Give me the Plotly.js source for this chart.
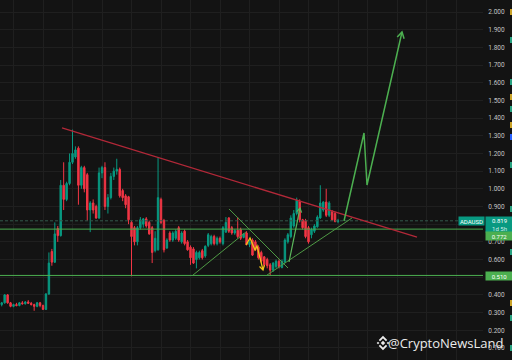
<!DOCTYPE html>
<html><head><meta charset="utf-8">
<script src="https://cdn.plot.ly/plotly-3.0.1.min.js"></script>
<style>html,body{margin:0;padding:0;background:#131313;}#chart{width:512px;height:360px;}</style>
</head><body><div id="chart"></div>
<script>
// ---- data: ADAUSD candles ----
const openPrices = [
0.345,0.355,0.40,0.355,0.335,0.345,0.34,0.355,0.35,0.36,0.352,0.345,0.335,0.355,0.34,
0.318,0.405,0.645,0.585,0.775,0.735,1.02,0.94,1.03,1.15,1.18,1.23,
1.02,1.12,1.08,0.88,0.92,0.90,0.835,1.09,1.12,0.90,0.95,1.07,1.10,1.11,0.99,0.96,0.955,0.81,0.78,0.70,0.78,0.80,0.83,0.81,0.78,0.65,0.655,0.94,0.82,0.665,0.75,0.71,0.72,
0.78,0.70,0.76,0.70,0.67,0.66,0.60,0.61,0.65,0.62,0.68,0.69,0.73,0.69,0.72,0.69,0.755,0.835,0.78,0.75,0.765,0.77,0.725,0.75,0.685,0.71,0.70,0.67,0.64,0.615,0.60,0.57,
0.54,0.56,0.59,0.555,0.585,0.70,0.73,0.79,0.86,0.93,0.825,0.82,0.78,0.74,0.76,0.785,0.835,0.88,0.925,0.85,0.87,0.86,0.815];
const highPrices = [
0.36,0.405,0.405,0.36,0.35,0.355,0.36,0.365,0.365,0.37,0.36,0.35,0.36,0.36,0.345,
0.41,0.64,0.66,0.81,0.79,1.05,1.15,1.04,1.20,1.335,1.24,1.24,
1.13,1.13,1.09,0.93,0.94,0.91,1.12,1.13,1.15,0.97,1.09,1.12,1.17,1.12,1.00,0.97,0.96,0.82,0.79,0.79,0.84,0.835,0.84,0.82,0.79,0.76,1.18,0.95,0.83,0.72,0.76,0.76,0.77,
0.79,0.76,0.77,0.71,0.68,0.67,0.65,0.65,0.66,0.68,0.75,0.74,0.74,0.73,0.73,0.79,0.84,0.84,0.79,0.77,0.84,0.78,0.75,0.76,0.71,0.72,0.71,0.68,0.65,0.62,0.61,0.58,
0.585,0.60,0.60,0.60,0.72,0.75,0.85,0.88,0.95,0.94,0.83,0.83,0.79,0.78,0.80,0.85,1.02,0.93,1.00,0.93,0.88,0.87,0.83];
const lowPrices = [
0.335,0.35,0.35,0.33,0.33,0.335,0.335,0.345,0.345,0.35,0.34,0.31,0.33,0.33,0.315,
0.315,0.40,0.565,0.58,0.70,0.73,0.88,0.93,1.02,1.14,1.17,0.91,
1.00,0.98,0.82,0.755,0.86,0.83,0.83,1.06,0.88,0.86,0.94,1.05,1.08,0.95,0.93,0.89,0.80,0.505,0.68,0.68,0.77,0.78,0.78,0.74,0.58,0.64,0.65,0.80,0.64,0.66,0.70,0.70,0.71,
0.70,0.69,0.68,0.65,0.57,0.575,0.55,0.60,0.60,0.61,0.67,0.68,0.68,0.68,0.69,0.68,0.75,0.75,0.74,0.74,0.72,0.71,0.72,0.68,0.67,0.62,0.65,0.60,0.58,0.56,0.55,0.51,
0.53,0.55,0.55,0.55,0.58,0.69,0.72,0.78,0.85,0.81,0.77,0.72,0.69,0.72,0.75,0.78,0.83,0.87,0.84,0.84,0.82,0.81,0.805];
const closePrices = [
0.355,0.40,0.355,0.335,0.345,0.34,0.355,0.35,0.36,0.352,0.345,0.335,0.355,0.34,0.318,
0.405,0.58,0.585,0.745,0.735,1.02,0.94,1.03,1.15,1.20,1.22,1.02,
1.12,1.00,0.88,0.92,0.88,0.835,1.09,1.12,0.90,0.95,1.07,1.10,1.11,0.96,0.95,0.91,0.825,0.73,0.70,0.78,0.825,0.83,0.79,0.745,0.64,0.72,0.95,0.81,0.655,0.71,0.71,0.75,0.76,
0.71,0.75,0.69,0.655,0.61,0.58,0.64,0.64,0.61,0.675,0.74,0.73,0.69,0.72,0.70,0.78,0.81,0.76,0.75,0.765,0.73,0.72,0.745,0.685,0.70,0.625,0.655,0.61,0.59,0.57,0.565,0.54,
0.58,0.59,0.56,0.59,0.71,0.74,0.835,0.86,0.935,0.825,0.78,0.73,0.70,0.77,0.79,0.84,0.92,0.925,0.85,0.92,0.825,0.815,0.819];
const candleIndex = openPrices.map((_, i) => i + 1);

// tick labels hidden behind the price boxes in the picture are left blank
const tickValues = [0.1,0.2,0.3,0.4,0.5,0.6,0.7,0.8,0.9,1.0,1.1,1.2,1.3,1.4,1.5,1.6,1.7,1.8,1.9,2.0];
const tickLabels = ['0.100','0.200','0.300','0.400','','0.600','0.700','','0.900','1.000','1.100','1.200','1.300','1.400','1.500','1.600','1.700','1.800','1.900','2.000'];

const lastPrice = 0.819;
const supportLevels = [0.772, 0.510];

// drawn lines: [candle index, price]
const resistanceLine = [[21.44,1.344],[141.78,0.727]];
const fallingWedgeTop = [[78.05,0.886],[98.05,0.552]];
const risingLine1 = [[65.84,0.512],[83.81,0.756]];
const risingLine2 = [[90.93,0.512],[119.74,0.835]];
const yellowPath = [[83.81,0.682],[85.17,0.722],[86.86,0.654],[87.54,0.677],[89.57,0.541]];
const yellowHead = [[88.39,0.561],[89.57,0.541],[90.05,0.568]];
const smallArrow = [[98.39,0.586],[102.12,0.891]];
const smallArrowHead = [[101.0,0.8705],[102.12,0.891],[102.66,0.865]];
const bigArrow = [[117.03,0.818],[123.81,1.3156],[124.83,1.0215],[136.69,1.887]];
const bigArrowHead = [[135.07,1.858],[136.69,1.887],[137.4,1.849]];

// ---- chart ----
const W = 512, H = 360, PW = 483;
const px = v => v / PW;          // pixel x -> paper x
const py = v => 1 - v / H;       // pixel y -> paper y
const GREEN = '#089981', RED = '#f23645', LGREEN = '#4caf50';

const pathOf = pts => 'M' + pts.map(p => p[0] + ',' + p[1]).join(' L');
const drawn = (pts, color, width) => ({type:'path', xref:'x', yref:'y', path: pathOf(pts), line:{color, width}, layer:'above'});

const shapes = [
  {type:'line', xref:'paper', x0:0, x1:1, yref:'y', y0:lastPrice, y1:lastPrice, line:{color:'#33594c', width:1, dash:'3px,2px'}},
  ...supportLevels.map(v => ({type:'line', xref:'paper', x0:0, x1:1, yref:'y', y0:v, y1:v, line:{color:LGREEN, width:1}})),
  drawn(resistanceLine, '#b22838', 1.3),
  drawn(fallingWedgeTop, '#4f9a45', 1),
  drawn(risingLine1, '#4f9a45', 1),
  drawn(risingLine2, '#4f9a45', 1),
  drawn(yellowPath, '#f0c419', 1.3),
  drawn(yellowHead, '#f0c419', 1.3),
  drawn(smallArrow, '#5cb85c', 1.2),
  drawn(smallArrowHead, '#5cb85c', 1.2),
  drawn(bigArrow, '#4caf50', 1.5),
  drawn(bigArrowHead, '#4caf50', 1.5),
];

// Binance-like logo of the watermark
const lx = 383, ly = 343;
const pp = (pts) => 'M' + pts.map(p => px(p[0]) + ',' + py(p[1])).join(' L');
shapes.push(
  {type:'path', xref:'paper', yref:'paper', path: pp([[lx,ly-2.2],[lx+2.2,ly],[lx,ly+2.2],[lx-2.2,ly]])+' Z', fillcolor:'#ececec', line:{width:0}},
  {type:'path', xref:'paper', yref:'paper', path: pp([[lx-5,ly-1.3],[lx-3.7,ly],[lx-5,ly+1.3],[lx-6.3,ly]])+' Z', fillcolor:'#ececec', line:{width:0}},
  {type:'path', xref:'paper', yref:'paper', path: pp([[lx+5,ly-1.3],[lx+6.3,ly],[lx+5,ly+1.3],[lx+3.7,ly]])+' Z', fillcolor:'#ececec', line:{width:0}},
  {type:'path', xref:'paper', yref:'paper', path: pp([[lx-3.6,ly-2.4],[lx,ly-6],[lx+3.6,ly-2.4]]), line:{color:'#ececec', width:1.8}},
  {type:'path', xref:'paper', yref:'paper', path: pp([[lx-3.6,ly+2.4],[lx,ly+6],[lx+3.6,ly+2.4]]), line:{color:'#ececec', width:1.8}}
);

// right-edge colour marks
const edgeMarks = [[12,'#c9a227'],[40,'#26a17f'],[82,'#26a17f'],[97,'#c9a227'],[109,'#26a17f'],[125,'#c9a227'],[137,'#2962ff'],[165,'#26a17f'],[209,'#26a17f'],[252,'#26a17f'],[303,'#c9a227'],[318,'#26a17f'],[348,'#26a17f']];
edgeMarks.forEach(m => shapes.push({type:'rect', xref:'paper', yref:'paper', x0:px(510), x1:px(513), y0:py(m[0]+3), y1:py(m[0]-3), fillcolor:m[1], line:{width:0}}));

const labelFont = {family:'Roboto, Arial, sans-serif', size:6, color:'#ffffff'};
const annotations = [
  {xref:'paper', yref:'paper', x:px(485), y:py(221), xanchor:'right', yanchor:'middle', text:'ADAUSD', showarrow:false, bgcolor:GREEN, width:25, height:8, font:labelFont, borderpad:0},
  {xref:'paper', yref:'paper', x:px(485), y:py(224.5), xanchor:'left', yanchor:'middle', text:lastPrice.toFixed(3)+'<br><span style="color:#cfeee6">1d 5h</span>', showarrow:false, bgcolor:GREEN, width:27, height:15, font:labelFont, borderpad:0},
  {xref:'paper', yref:'paper', x:px(485), y:py(236), xanchor:'left', yanchor:'middle', text:supportLevels[0].toFixed(3), showarrow:false, bgcolor:LGREEN, width:27, height:8, font:labelFont, borderpad:0},
  {xref:'paper', yref:'paper', x:px(485), y:py(276), xanchor:'left', yanchor:'middle', text:supportLevels[1].toFixed(3), showarrow:false, bgcolor:LGREEN, width:27, height:8, font:labelFont, borderpad:0},
  {xref:'paper', yref:'paper', x:px(505), y:py(343), xanchor:'right', yanchor:'middle', text:'@CryptoNewsLand', showarrow:false, font:{family:'Open Sans, sans-serif', size:13, color:'#ececec'}}
];

const trace = {
  type:'candlestick', x:candleIndex, open:openPrices, high:highPrices, low:lowPrices, close:closePrices,
  increasing:{line:{color:GREEN, width:1}, fillcolor:GREEN},
  decreasing:{line:{color:RED, width:1}, fillcolor:RED},
  whiskerwidth:0, showlegend:false, hoverinfo:'skip'
};

const layout = {
  width:W, height:H, margin:{l:0, r:W-PW, t:0, b:0, pad:0},
  paper_bgcolor:'#131313', plot_bgcolor:'#131313', showlegend:false,
  xaxis:{range:[0.42, 0.42 + PW/2.95], showgrid:true, gridcolor:'#1f1f1f', gridwidth:1, tick0:5, dtick:10, showticklabels:false, zeroline:false, rangeslider:{visible:false}, fixedrange:true, showline:false, ticks:''},
  yaxis:{range:[2.0 - 348/176.8, 2.0 + 12/176.8], side:'right', tickvals:tickValues, ticktext:tickLabels, showgrid:true, gridcolor:'#1f1f1f', zeroline:false, showline:false, ticks:'outside', ticklen:3, tickcolor:'rgba(0,0,0,0)', tickfont:{family:'Roboto, Arial, sans-serif', size:6.5, color:'#c4c4c4'}, fixedrange:true},
  shapes, annotations
};

Plotly.newPlot('chart', [trace], layout, {displayModeBar:false, staticPlot:true});
</script></body></html>
